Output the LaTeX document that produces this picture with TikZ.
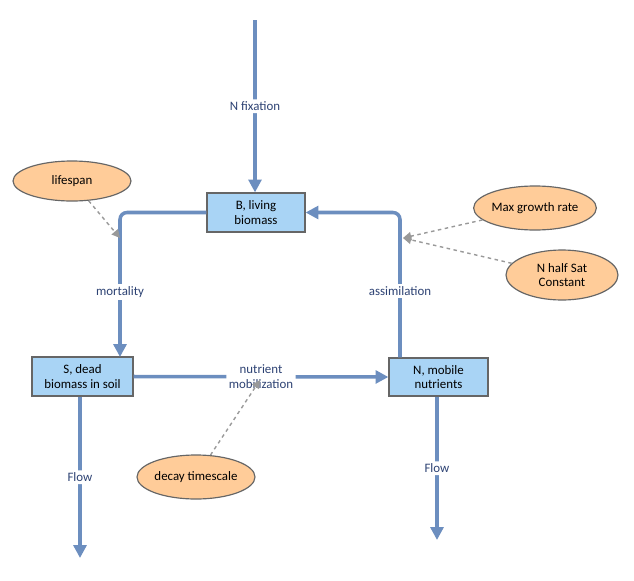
\documentclass[tikz,border=0pt]{standalone}
\usepackage{fontspec}
\setmainfont{Carlito}
\usetikzlibrary{arrows.meta,shapes.geometric}
\definecolor{ln}{HTML}{6C8EBF}
\definecolor{bx}{HTML}{A9D4F5}
\definecolor{el}{HTML}{FFCC99}
\definecolor{bd}{HTML}{666666}
\definecolor{tx}{HTML}{2E4374}
\begin{document}
\begin{tikzpicture}[x=0.03cm,y=-0.03cm,
 flow/.style={draw=ln,line width=3pt,-{Triangle[length=11pt,width=11pt]},rounded corners=6pt},
 dep/.style={draw=gray!80,dashed,line width=1.2pt,-{Triangle[length=7pt,width=7pt]}},
 box/.style={draw=bd,fill=bx,line width=1pt,align=center,inner sep=0pt,font=\fontsize{11}{12.5}\selectfont},
 ell/.style={draw=bd,fill=el,ellipse,line width=1pt,align=center,inner sep=0pt,font=\fontsize{11}{12.5}\selectfont},
 lab/.style={fill=white,text=tx,align=center,inner sep=2pt,font=\fontsize{11}{12.5}\selectfont}]
\useasboundingbox (0,0) rectangle (634,581);
\node[box,minimum width=98*0.03cm,minimum height=39*0.03cm] (B) at (256,212.5) {B, living\\biomass};
\node[box,minimum width=101*0.03cm,minimum height=39*0.03cm] (S) at (82.5,376.5) {S, dead\\biomass in soil};
\node[box,minimum width=99*0.03cm,minimum height=38*0.03cm] (N) at (438.5,377) {N, mobile\\nutrients};
\node[ell,minimum width=118*0.03cm,minimum height=40*0.03cm] (L) at (72,181) {lifespan};
\node[ell,minimum width=118*0.03cm,minimum height=44*0.03cm] (D) at (196,477) {decay timescale};
\node[ell,minimum width=118*0.03cm,minimum height=44*0.03cm] (M) at (535,208) {Max growth rate};
\node[ell,minimum width=112*0.03cm,minimum height=50*0.03cm] (H) at (562,275) {N half Sat\\Constant};
\coordinate (top) at (255,20);
\coordinate (o1) at (80,558);
\coordinate (o2) at (437,540);
\coordinate (c1) at (120,238);
\coordinate (c2) at (403,238);
\coordinate (c3) at (260,380);
\draw[flow] (top) -- (B.north -| top) node[lab,pos=0.5] {N fixation};
\draw[flow] (B.west) -- (120,212.5) -- (120,357) node[lab,pos=0.55] {mortality};
\draw[flow] (S.east) -- (N.west) node[lab,pos=0.5] {nutrient\\mobilization};
\draw[flow] (N.north -| 400,0) -- (400,212.5) -- (B.east);
\node[lab] at (400,291) {assimilation};
\draw[flow] (S.south -| o1) -- (o1) node[lab,pos=0.5] {Flow};
\draw[flow] (N.south -| o2) -- (o2) node[lab,pos=0.5] {Flow};
\draw[dep] (L) -- (c1);
\draw[dep] (D) -- (c3);
\draw[dep] (M) -- (c2);
\draw[dep] (H) -- (c2);
\end{tikzpicture}
\end{document}
